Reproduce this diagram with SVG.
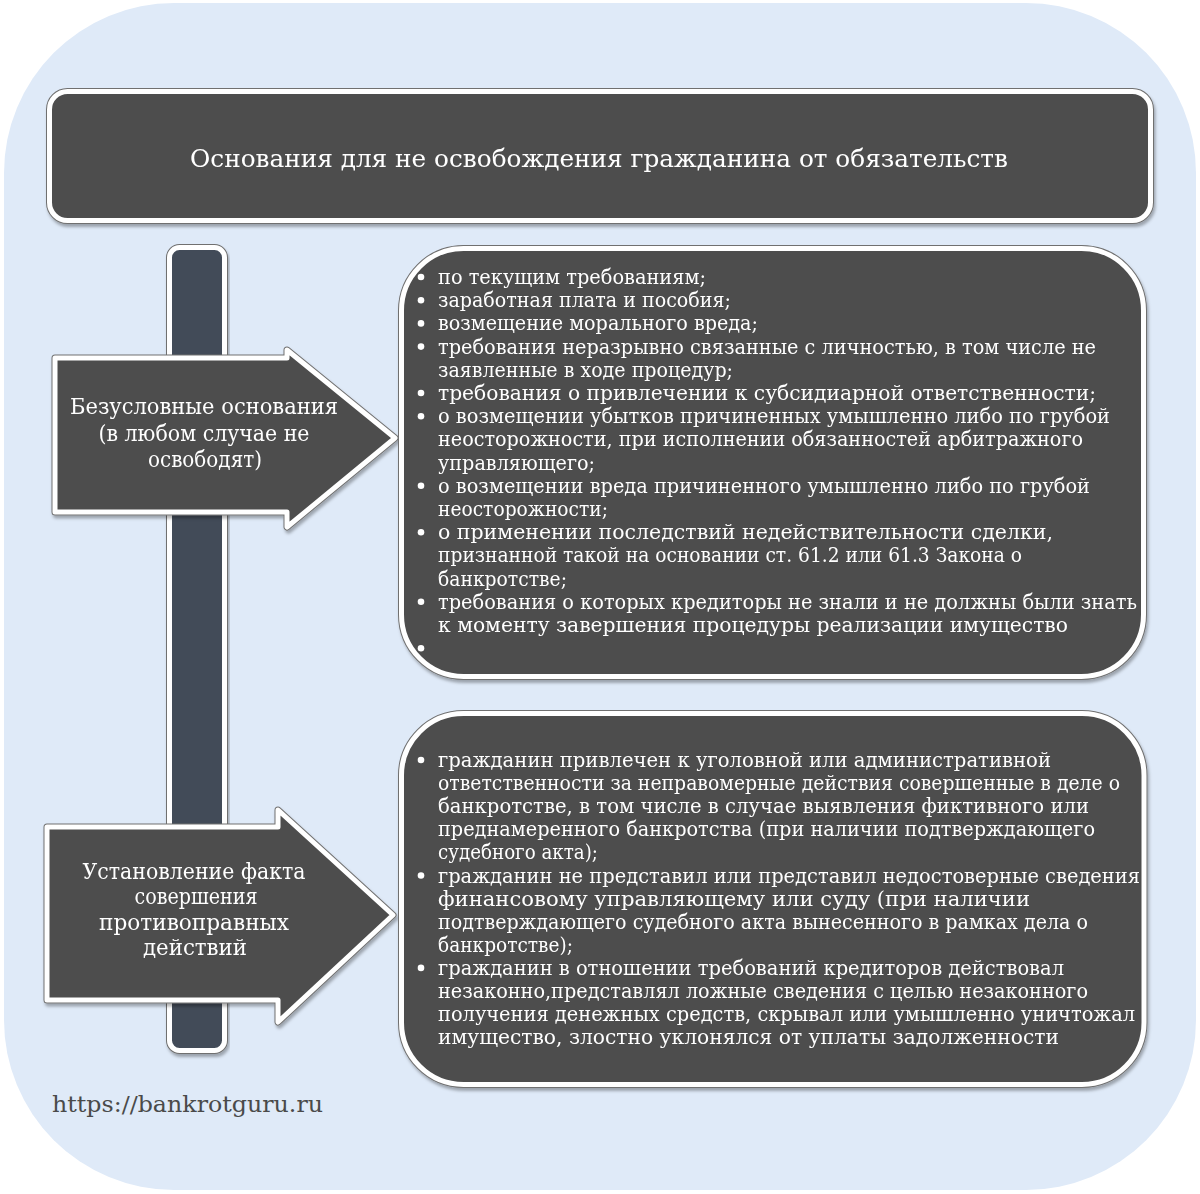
<svg xmlns="http://www.w3.org/2000/svg" width="1200" height="1194" viewBox="0 0 1200 1194">
<defs>
<filter id="sh" x="-10%" y="-10%" width="120%" height="120%">
<feDropShadow dx="1.5" dy="3" stdDeviation="1.5" flood-color="#000" flood-opacity="0.3"/>
</filter>
<style>
.edge{fill:#4d4d4d;stroke:#707070;stroke-width:7;stroke-linejoin:round}
.face{fill:#4d4d4d;stroke:#ffffff;stroke-width:5;stroke-linejoin:round}
.bar{fill:#424c59}
.t{font-family:"DejaVu Serif","Liberation Serif",serif;fill:#ffffff}
.b{font-size:20px}
.a{font-size:22px;text-anchor:middle}
.h{font-size:25px;text-anchor:middle}
.dot{fill:#ffffff}
.u{font-family:"DejaVu Serif","Liberation Serif",serif;font-size:23px;fill:#4a4a4a}
</style>
</defs>
<rect x="0" y="0" width="1200" height="1194" fill="#ffffff"/>
<rect x="4" y="3" width="1192" height="1187" rx="170" ry="170" fill="#dfeaf8"/>

<g id="header" filter="url(#sh)">
<rect class="edge" x="49.5" y="91.5" width="1101" height="129" rx="18"/>
<rect class="face" x="49.5" y="91.5" width="1101" height="129" rx="18"/>
<text class="t h" x="599" y="167" textLength="818" lengthAdjust="spacingAndGlyphs">Основания для не освобождения гражданина от обязательств</text>
</g>

<g id="spine" filter="url(#sh)">
<rect class="edge bar" x="169.5" y="247.5" width="55" height="803" rx="10"/>
<rect class="face bar" x="169.5" y="247.5" width="55" height="803" rx="10"/>
</g>

<g id="connectors">
<g id="arrow1" filter="url(#sh)">
<polygon class="edge" points="55,358 287,358 287,350 395,438 287,527 287,512 55,512"/>
<polygon class="face" points="55,358 287,358 287,350 395,438 287,527 287,512 55,512"/>
<text class="t a" x="204" y="414" textLength="268" lengthAdjust="spacingAndGlyphs">Безусловные основания</text>
<text class="t a" x="204" y="440.5" textLength="211" lengthAdjust="spacingAndGlyphs">(в любом случае не</text>
<text class="t a" x="205" y="467" textLength="114" lengthAdjust="spacingAndGlyphs">освободят)</text>
</g>
<g id="arrow2" filter="url(#sh)">
<polygon class="edge" points="47,827 278,827 278,810 393,915 278,1022 278,1000 47,1000"/>
<polygon class="face" points="47,827 278,827 278,810 393,915 278,1022 278,1000 47,1000"/>
<text class="t a" x="194" y="879" textLength="223" lengthAdjust="spacingAndGlyphs">Установление факта</text>
<text class="t a" x="196" y="904.3" textLength="123" lengthAdjust="spacingAndGlyphs">совершения</text>
<text class="t a" x="194" y="929.6" textLength="190" lengthAdjust="spacingAndGlyphs">противоправных</text>
<text class="t a" x="195" y="955" textLength="104" lengthAdjust="spacingAndGlyphs">действий</text>
</g>
</g>

<g id="box1" filter="url(#sh)">
<rect class="edge" x="401.5" y="248.5" width="742" height="428" rx="62"/>
<rect class="face" x="401.5" y="248.5" width="742" height="428" rx="62"/>
<g class="dot">
<circle cx="421" cy="277" r="3.3"/>
<circle cx="421" cy="300.2" r="3.3"/>
<circle cx="421" cy="323.4" r="3.3"/>
<circle cx="421" cy="346.6" r="3.3"/>
<circle cx="421" cy="393" r="3.3"/>
<circle cx="421" cy="416.2" r="3.3"/>
<circle cx="421" cy="485.8" r="3.3"/>
<circle cx="421" cy="532.2" r="3.3"/>
<circle cx="421" cy="601.8" r="3.3"/>
<circle cx="421" cy="648.2" r="3.3"/>
</g>
<g class="t b">
<text x="438" y="284" textLength="268" lengthAdjust="spacingAndGlyphs">по текущим требованиям;</text>
<text x="438" y="307.2" textLength="293" lengthAdjust="spacingAndGlyphs">заработная плата и пособия;</text>
<text x="438" y="330.4" textLength="320" lengthAdjust="spacingAndGlyphs">возмещение морального вреда;</text>
<text x="438" y="353.6" textLength="658" lengthAdjust="spacingAndGlyphs">требования неразрывно связанные с личностью, в том числе не</text>
<text x="438" y="376.8" textLength="295" lengthAdjust="spacingAndGlyphs">заявленные в ходе процедур;</text>
<text x="438" y="400" textLength="658" lengthAdjust="spacingAndGlyphs">требования о привлечении к субсидиарной ответственности;</text>
<text x="438" y="423.2" textLength="672" lengthAdjust="spacingAndGlyphs">о возмещении убытков причиненных умышленно либо по грубой</text>
<text x="438" y="446.4" textLength="645" lengthAdjust="spacingAndGlyphs">неосторожности, при исполнении обязанностей арбитражного</text>
<text x="438" y="469.6" textLength="157" lengthAdjust="spacingAndGlyphs">управляющего;</text>
<text x="438" y="492.8" textLength="652" lengthAdjust="spacingAndGlyphs">о возмещении вреда причиненного умышленно либо по грубой</text>
<text x="438" y="516" textLength="170" lengthAdjust="spacingAndGlyphs">неосторожности;</text>
<text x="438" y="539.2" textLength="615" lengthAdjust="spacingAndGlyphs">о применении последствий недействительности сделки,</text>
<text x="438" y="562.4" textLength="584" lengthAdjust="spacingAndGlyphs">признанной такой на основании ст. 61.2 или 61.3 Закона о</text>
<text x="438" y="585.6" textLength="129" lengthAdjust="spacingAndGlyphs">банкротстве;</text>
<text x="438" y="608.8" textLength="699" lengthAdjust="spacingAndGlyphs">требования о которых кредиторы не знали и не должны были знать</text>
<text x="438" y="632" textLength="630" lengthAdjust="spacingAndGlyphs">к моменту завершения процедуры реализации имущество</text>
</g>
</g>

<g id="box2" filter="url(#sh)">
<rect class="edge" x="401.5" y="713.5" width="742.5" height="371" rx="62"/>
<rect class="face" x="401.5" y="713.5" width="742.5" height="371" rx="62"/>
<g class="dot">
<circle cx="421" cy="760" r="3.3"/>
<circle cx="421" cy="875.5" r="3.3"/>
<circle cx="421" cy="967.9" r="3.3"/>
</g>
<g class="t b">
<text x="438" y="767" textLength="613" lengthAdjust="spacingAndGlyphs">гражданин привлечен к уголовной или административной</text>
<text x="438" y="790.1" textLength="682" lengthAdjust="spacingAndGlyphs">ответственности за неправомерные действия совершенные в деле о</text>
<text x="438" y="813.2" textLength="651" lengthAdjust="spacingAndGlyphs">банкротстве, в том числе в случае выявления фиктивного или</text>
<text x="438" y="836.3" textLength="657" lengthAdjust="spacingAndGlyphs">преднамеренного банкротства (при наличии подтверждающего</text>
<text x="438" y="859.4" textLength="160" lengthAdjust="spacingAndGlyphs">судебного акта);</text>
<text x="438" y="882.5" textLength="702" lengthAdjust="spacingAndGlyphs">гражданин не представил или представил недостоверные сведения</text>
<text x="438" y="905.6" textLength="592" lengthAdjust="spacingAndGlyphs">финансовому управляющему или суду (при наличии</text>
<text x="438" y="928.7" textLength="650" lengthAdjust="spacingAndGlyphs">подтверждающего судебного акта вынесенного в рамках дела о</text>
<text x="438" y="951.8" textLength="135" lengthAdjust="spacingAndGlyphs">банкротстве);</text>
<text x="438" y="974.9" textLength="626" lengthAdjust="spacingAndGlyphs">гражданин в отношении требований кредиторов действовал</text>
<text x="438" y="998" textLength="650" lengthAdjust="spacingAndGlyphs">незаконно,представлял ложные сведения с целью незаконного</text>
<text x="438" y="1021.1" textLength="697" lengthAdjust="spacingAndGlyphs">получения денежных средств, скрывал или умышленно уничтожал</text>
<text x="438" y="1044.2" textLength="621" lengthAdjust="spacingAndGlyphs">имущество, злостно уклонялся от уплаты задолженности</text>
</g>
</g>

<g id="url">
<text class="u" x="52" y="1112" textLength="271" lengthAdjust="spacingAndGlyphs">https://bankrotguru.ru</text>
</g>
</svg>
